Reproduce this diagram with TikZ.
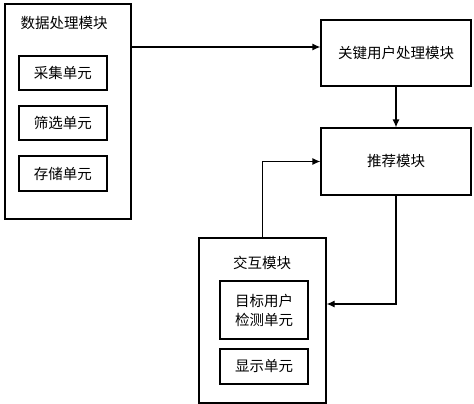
\documentclass[tikz,border=0pt]{standalone}
\usepackage{fontspec}
\newfontfamily\cjk{Noto Sans CJK SC}
\usepackage{tikz}
\usetikzlibrary{arrows,arrows.meta,calc,positioning}
\tikzset{>={Latex[length=8pt,width=7pt]}}
\tikzset{
  module/.style={draw,line width=1.2pt,minimum width=#1},
  unitbox/.style={draw,line width=1.2pt,minimum width=88pt,align=center},
  label/.style={inner sep=0pt},
  link/.style={->,line width=1.2pt},
}
\begin{document}
\begin{tikzpicture}[x=1pt,y=-1pt,font=\cjk\fontsize{14.5}{19}\selectfont]
    \useasboundingbox (0,0) rectangle (474,404);
    % data processing module
    \node[module=126pt,minimum height=215pt] (data) at (68,111.5) {};
    \node[label] (datatitle) at (64,23) {数据处理模块};
    \node[unitbox,minimum height=34pt] (collect) at (63,73) {采集单元};
    \node[unitbox,minimum height=34pt] (filter) at (63,123) {筛选单元};
    \node[unitbox,minimum height=35pt] (store) at (63,173.5) {存储单元};
    % key user and recommendation modules
    \node[module=150pt,minimum height=66pt] (key) at (396,53) {关键用户处理模块};
    \node[module=150pt,minimum height=67pt] (rec) at (396,161.5) {推荐模块};
    % interaction module
    \node[module=127pt,minimum height=165pt] (inter) at (262.5,320.5) {};
    \node[label] (intertitle) at (262,263) {交互模块};
    \node[unitbox,minimum height=58pt] (detect) at (264,310) {目标用户\\检测单元};
    \node[unitbox,minimum height=35pt] (show) at (264,366.5) {显示单元};
    % connectors
    \draw[link] (data.north east |- 0,47) -- (key.west |- 0,47);
    \draw[link] (key.south) -- (rec.north);
    \draw[link] (inter.north) |- (rec.west);
    \draw[link] (rec.south) |- (inter.east |- 0,304);
\end{tikzpicture}
\end{document}
